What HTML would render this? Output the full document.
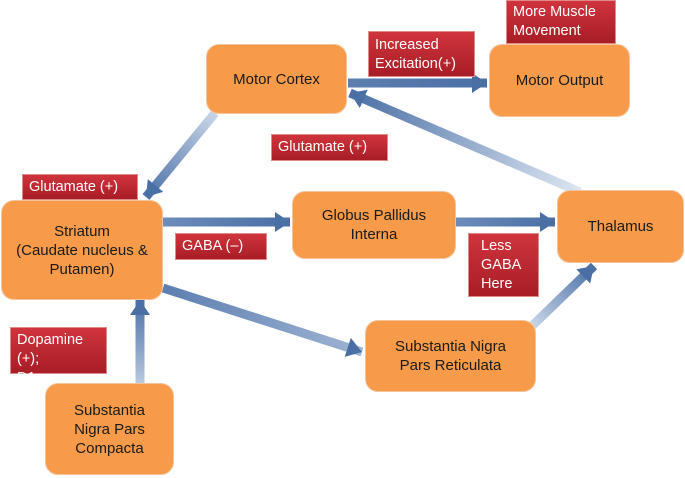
<!DOCTYPE html>
<html><head><meta charset="utf-8"><style>
body{margin:0;background:#fff;}
.wrap{position:relative;width:685px;height:478px;overflow:hidden;font-family:"Liberation Sans",sans-serif;}
.box{position:absolute;background:#F79B4A;border-radius:13px;display:flex;align-items:center;justify-content:center;text-align:center;color:#1a1a1a;font-size:15px;line-height:19px;box-sizing:border-box;border:1px solid #f4c39a;}
.lab{position:absolute;background:linear-gradient(#d0343d,#a81d26);color:#fff;font-size:14.5px;line-height:19px;padding:3px 6px;box-sizing:border-box;border:1px solid #e08a8a;}
svg{position:absolute;left:0;top:0;}
</style></head><body><div class="wrap">
<svg width="685" height="478">
<defs>
<marker id="h" markerUnits="userSpaceOnUse" markerWidth="16" markerHeight="20" refX="15" refY="10" orient="auto"><path d="M0,0 L15,10 L0,20 z" fill="#4a6fa5"/></marker>
<linearGradient id="g1" gradientUnits="userSpaceOnUse" x1="348" y1="83" x2="487" y2="83"><stop offset="0" stop-color="#5d7fb0"/><stop offset="1" stop-color="#4a6fa5"/></linearGradient>
<linearGradient id="g2" gradientUnits="userSpaceOnUse" x1="215" y1="113" x2="145" y2="198"><stop offset="0" stop-color="#c9d6e8"/><stop offset="1" stop-color="#4a6fa5"/></linearGradient>
<linearGradient id="g3" gradientUnits="userSpaceOnUse" x1="580" y1="192" x2="350" y2="93"><stop offset="0" stop-color="#dde6f1"/><stop offset="1" stop-color="#4a6fa5"/></linearGradient>
<linearGradient id="g4" gradientUnits="userSpaceOnUse" x1="163" y1="222" x2="290" y2="222"><stop offset="0" stop-color="#6d8cba"/><stop offset="1" stop-color="#4a6fa5"/></linearGradient>
<linearGradient id="g5" gradientUnits="userSpaceOnUse" x1="455" y1="222" x2="555" y2="222"><stop offset="0" stop-color="#6d8cba"/><stop offset="1" stop-color="#4a6fa5"/></linearGradient>
<linearGradient id="g6" gradientUnits="userSpaceOnUse" x1="163" y1="288" x2="362" y2="352"><stop offset="0" stop-color="#5d7fb0"/><stop offset="1" stop-color="#9fb4d3"/></linearGradient>
<linearGradient id="g7" gradientUnits="userSpaceOnUse" x1="532" y1="326" x2="594" y2="266"><stop offset="0" stop-color="#c9d6e8"/><stop offset="1" stop-color="#4a6fa5"/></linearGradient>
<linearGradient id="g8" gradientUnits="userSpaceOnUse" x1="140" y1="383" x2="140" y2="300"><stop offset="0" stop-color="#b8c8df"/><stop offset="1" stop-color="#4a6fa5"/></linearGradient>
</defs>
<g stroke-width="9" fill="none" marker-end="url(#h)">
<line x1="348" y1="83" x2="487" y2="83" stroke="url(#g1)"/>
<line x1="215" y1="113" x2="146" y2="197" stroke="url(#g2)"/>
<line x1="580" y1="192" x2="350" y2="93" stroke="url(#g3)"/>
<line x1="163" y1="222" x2="290" y2="222" stroke="url(#g4)"/>
<line x1="455" y1="222" x2="555" y2="222" stroke="url(#g5)"/>
<line x1="163" y1="288" x2="362" y2="352" stroke="url(#g6)"/>
<line x1="532" y1="326" x2="594" y2="266" stroke="url(#g7)"/>
<line x1="140" y1="383" x2="140" y2="300" stroke="url(#g8)"/>
</g>
</svg>
<div class="box" style="left:206px;top:44px;width:141px;height:70px;">Motor Cortex</div>
<div class="box" style="left:489px;top:44px;width:141px;height:73px;">Motor Output</div>
<div class="box" style="left:1px;top:200px;width:162px;height:100px;">Striatum<br>(Caudate nucleus &amp;<br>Putamen)</div>
<div class="box" style="left:292px;top:191px;width:164px;height:68px;">Globus Pallidus<br>Interna</div>
<div class="box" style="left:557px;top:190px;width:127px;height:73px;">Thalamus</div>
<div class="box" style="left:365px;top:320px;width:171px;height:72px;">Substantia Nigra<br>Pars Reticulata</div>
<div class="box" style="left:45px;top:383px;width:129px;height:92px;">Substantia<br>Nigra Pars<br>Compacta</div>
<div class="lab" style="left:506px;top:0px;width:110px;height:44px;padding-top:2px;">More Muscle<br>Movement</div>
<div class="lab" style="left:368px;top:31px;width:107px;height:46px;padding-top:4px;">Increased<br>Excitation(+)</div>
<div class="lab" style="left:271px;top:134px;width:117px;height:27px;">Glutamate (+)</div>
<div class="lab" style="left:22px;top:174px;width:116px;height:26px;">Glutamate (+)</div>
<div class="lab" style="left:175px;top:233px;width:92px;height:27px;">GABA (–)</div>
<div class="lab" style="left:468px;top:233px;width:71px;height:64px;padding-left:12px;">Less<br>GABA<br>Here</div>
<div class="lab" style="left:10px;top:327px;width:97px;height:47px;">Dopamine (+);<br>D1</div>
</div></body></html>
